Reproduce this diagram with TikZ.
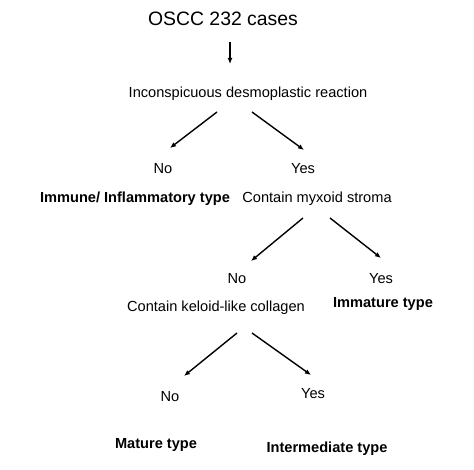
\documentclass[tikz,border=0pt]{standalone}
\usepackage{fontspec}
\setmainfont{Liberation Sans}
\usetikzlibrary{arrows.meta}
\begin{document}
\begin{tikzpicture}[x=1pt,y=-1pt,
  txt/.style={anchor=base,inner sep=0pt,font=\fontsize{14.6}{17}\selectfont},
  btxt/.style={txt,font=\fontsize{14.6}{17}\selectfont\bfseries},
  arr/.style={line width=1.4pt,-{Latex[length=6pt,width=5pt]}}]
\useasboundingbox (0,0) rectangle (474,470);
\node[anchor=base,inner sep=0pt,font=\fontsize{19.4}{22}\selectfont] (title) at (223,26) {OSCC 232 cases};
\node[txt] (q1) at (248,98) {Inconspicuous desmoplastic reaction};
\node[txt] (no1) at (163,174) {No};
\node[txt] (yes1) at (303,174) {Yes};
\node[btxt] (immune) at (135,203) {Immune/ Inflammatory type};
\node[txt] (q2) at (317,203) {Contain myxoid stroma};
\node[txt] (no2) at (237,284) {No};
\node[txt] (yes2) at (381,284) {Yes};
\node[txt] (q3) at (216,312) {Contain keloid-like collagen};
\node[btxt] (immature) at (383,308) {Immature type};
\node[txt] (no3) at (170,401) {No};
\node[txt] (yes3) at (313,399) {Yes};
\node[btxt] (mature) at (156,448) {Mature type};
\node[btxt] (inter) at (327,452) {Intermediate type};
% arrow end points
\coordinate (a0s) at (230,42); \coordinate (a0e) at (230,64);
\coordinate (a1s) at (217,112); \coordinate (a1e) at (170,148);
\coordinate (a2s) at (252,112); \coordinate (a2e) at (304,150);
\coordinate (a3s) at (303,218); \coordinate (a3e) at (251,261);
\coordinate (a4s) at (330,218); \coordinate (a4e) at (381,258);
\coordinate (a5s) at (237,333); \coordinate (a5e) at (184,376);
\coordinate (a6s) at (252,333); \coordinate (a6e) at (311,375);
\draw[arr] (a0s) -- (a0e);
\draw[arr] (a1s) -- (a1e);
\draw[arr] (a2s) -- (a2e);
\draw[arr] (a3s) -- (a3e);
\draw[arr] (a4s) -- (a4e);
\draw[arr] (a5s) -- (a5e);
\draw[arr] (a6s) -- (a6e);
\end{tikzpicture}
\end{document}
